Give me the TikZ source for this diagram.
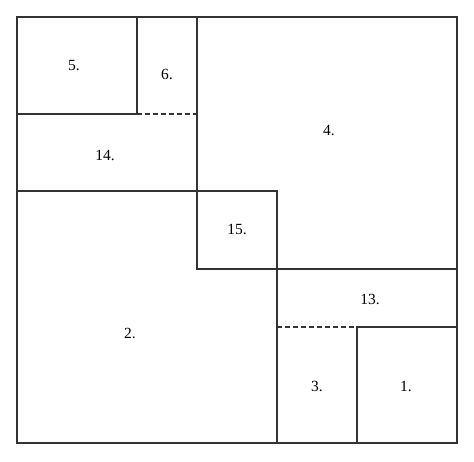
\documentclass[tikz,border=0pt]{standalone}
\usepackage{fontspec}
\setmainfont{Liberation Serif}
\begin{document}
\begin{tikzpicture}[x=1pt,y=-1pt,
  wall/.style={line width=1.1pt,draw=black!80,line cap=rect},
  seam/.style={line width=1.1pt,draw=black!80,dash pattern=on 5pt off 3pt},
  lbl/.style={font=\fontsize{15.5}{16}\selectfont,text=black,inner sep=0pt}]
\useasboundingbox (0,0) rectangle (474,461);
% outer frame
\draw[wall] (17,17) rectangle (457,443);
% top-left blocks
\draw[wall] (137,17) -- (137,114);
\draw[wall] (17,114) -- (137,114);
\draw[seam] (137,114) -- (197,114);
\draw[wall] (197,17) -- (197,269);
\draw[wall] (17,191) -- (277,191);
% middle
\draw[wall] (197,269) -- (457,269);
\draw[wall] (277,191) -- (277,443);
% bottom-right
\draw[seam] (277,327) -- (357,327);
\draw[wall] (357,327) -- (457,327);
\draw[wall] (357,327) -- (357,443);
% labels
\node[lbl] (n5) at (74,66) {5.};
\node[lbl] (n6) at (167,74) {6.};
\node[lbl] (n14) at (105,155) {14.};
\node[lbl] (n4) at (329,131) {4.};
\node[lbl] (n15) at (237,229) {15.};
\node[lbl] (n2) at (130,333) {2.};
\node[lbl] (n13) at (370,299) {13.};
\node[lbl] (n3) at (317,386) {3.};
\node[lbl] (n1) at (406,386) {1.};
\end{tikzpicture}
\end{document}
